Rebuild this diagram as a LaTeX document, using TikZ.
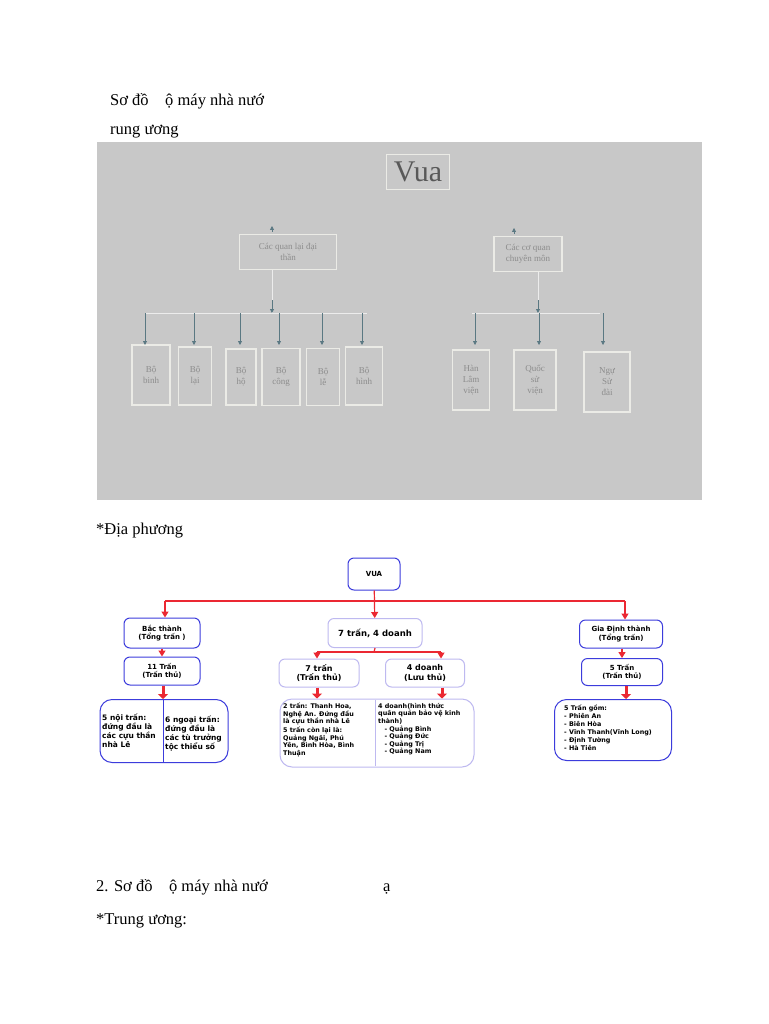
\documentclass[tikz,border=0pt]{standalone}
\usepackage{fontspec}
\setmainfont{Liberation Serif}
\newfontfamily\djv{DejaVu Sans}
\usetikzlibrary{arrows.meta}
\definecolor{bgg}{RGB}{200,200,200}
\definecolor{bl}{RGB}{60,60,220}
\definecolor{lav}{RGB}{190,185,240}
\definecolor{rl}{RGB}{235,40,50}
\definecolor{tg}{RGB}{235,235,230}
\tikzset{
 oldbox/.style={draw=tg,line width=1.2pt,align=center,text=gray!90!white,font=\fontsize{9}{11}\selectfont},
 oldln/.style={draw=gray!15!white,line width=0.8pt},
 oldarr/.style={oldln,-{Triangle[length=4pt,width=4pt]},draw={rgb,255:red,90;green,120;blue,130}},
 nb/.style={draw=bl,line width=1pt,rounded corners=6pt,align=center,font=\djv\bfseries\fontsize{7}{8.5}\selectfont},
 lb/.style={nb,draw=lav},
 rarr/.style={color=rl,line width=1.2pt,-{Triangle[length=6pt,width=7pt]}},
 rln/.style={color=rl,line width=1.2pt},
 ttl/.style={anchor=base west,font=\fontsize{16.5}{18}\selectfont,inner sep=0pt}
}
\begin{document}
\begin{tikzpicture}[x=1pt,y=-1pt]
\useasboundingbox[fill=white] (0,0) rectangle (768,1024);
\node[ttl] (t1) at (110,106) {Sơ đồ\quad ộ máy nhà nướ};
\node[ttl] (t2) at (110,135) {rung ương};
\node[ttl] (t3) at (96,534) {*Địa phương};
\node[ttl] (t4) at (96,891) {2. Sơ đồ\quad ộ máy nhà nướ};
\node[ttl] (t5) at (383,891) {ạ};
\node[ttl] (t6) at (96,924) {*Trung ương:};
% top diagram
\fill[bgg] (97,142) rectangle (702,500);
\node[oldbox,minimum width=63,minimum height=35,font=\fontsize{30}{30}\selectfont,text=gray!70!black] (vua) at (418,172) {Vua};
\node[oldbox,minimum width=97,minimum height=35] (g1) at (288,252) {Các quan lại đại\\thần};
\node[oldbox,minimum width=68,minimum height=35] (g2) at (528,254) {Các cơ quan\\chuyên môn};
\coordinate (u1) at (272,232); \coordinate (u1b) at (272,226);
\coordinate (u2) at (514,234); \coordinate (u2b) at (514,228);
\draw[oldarr] (u1) -- (u1b);
\draw[oldarr] (u2) -- (u2b);
\foreach \n/\x/\y/\w/\h/\t in {b1/151/375/38/60/Bộ\\binh, b2/195/376/33/58/Bộ\\lại, b3/241/377/30/56/Bộ\\hộ, b4/281/377/38/57/Bộ\\công, b5/323/377/33/57/Bộ\\lễ, b6/364/376/37/58/Bộ\\hình, c1/471/380/37/60/Hàn\\Lâm\\viện, c2/535/380/42/60/Quốc\\sử\\viện, c3/607/382/46/60/Ngự\\Sử\\đài}
  {\node[oldbox,minimum width=\w,minimum height=\h] (\n) at (\x,\y) {\t};}
\coordinate (h1) at (272,313); \coordinate (h2) at (538,313);
\draw[oldln] (g1.south -| h1) -- (h1);
\draw[oldarr] (272,300) -- (h1);
\draw[oldln] (145,313) -- (367,313);
\draw[oldln] (g2.south -| h2) -- (h2);
\draw[oldarr] (538,300) -- (h2);
\draw[oldln] (472,313) -- (600,313);
\foreach \n/\x in {b1/145,b2/194,b3/240,b4/279,b5/322,b6/362,c1/475,c2/539,c3/603}
  \draw[oldarr] (\x,313) -- (\x,345);
% bottom diagram
\node[nb,minimum width=52,minimum height=32] (V) at (374,574) {VUA};
\node[nb,minimum width=76,minimum height=30] (bt) at (162,633) {Bắc thành\\(Tổng trấn )};
\node[lb,minimum width=94,minimum height=29,font=\djv\bfseries\fontsize{8.5}{10}\selectfont] (md) at (375,633) {7 trấn, 4 doanh};
\node[nb,minimum width=83,minimum height=28] (gd) at (621,634) {Gia Định thành\\(Tổng trấn)};
\node[nb,minimum width=76,minimum height=28] (t11) at (162,671) {11 Trấn\\(Trấn thủ)};
\node[nb,minimum width=81,minimum height=27] (t5b) at (622,672) {5 Trấn\\(Trấn thủ)};
\node[lb,minimum width=80,minimum height=28,font=\djv\bfseries\fontsize{8}{9.5}\selectfont] (t7) at (319,673) {7 trấn\\(Trấn thủ)};
\node[lb,minimum width=79,minimum height=28,font=\djv\bfseries\fontsize{8}{9.5}\selectfont] (d4) at (425,673) {4 doanh\\(Lưu thủ)};
\node[nb,minimum width=128,minimum height=63,rounded corners=12pt] (L) at (164,731) {};
\draw[bl,line width=1pt] (163,700) -- (163,763);
\node[anchor=west,align=left,inner sep=1pt,font=\djv\bfseries\fontsize{7.5}{9}\selectfont] (L1) at (101,731) {5 nội trấn:\\đứng đầu là\\các cựu thần\\nhà Lê};
\node[anchor=west,align=left,inner sep=1pt,font=\djv\bfseries\fontsize{7.5}{9}\selectfont] (L2) at (164,734) {6 ngoại trấn:\\đứng đầu là\\các tù trưởng\\tộc thiểu số};
\node[lb,minimum width=194,minimum height=68,rounded corners=12pt] (M) at (377,733) {};
\draw[lav,line width=1pt] (375,700) -- (375,766);
\node[anchor=north west,align=left,inner sep=1pt,font=\djv\bfseries\fontsize{6.4}{7.4}\selectfont] (M1) at (282,702) {2 trấn: Thanh Hoa,\\Nghệ An. Đứng đầu\\là cựu thần nhà Lê\\[2pt]5 trấn còn lại là:\\Quảng Ngãi, Phú\\Yên, Bình Hòa, Bình\\Thuận};
\node[anchor=north west,align=left,inner sep=1pt,font=\djv\bfseries\fontsize{6.4}{7.4}\selectfont] (M2) at (377,702) {4 doanh(hình thức\\quân quản bảo vệ kinh\\thành)\\[1pt]\quad - Quảng Bình\\\quad - Quảng Đức\\\quad - Quảng Trị\\\quad - Quảng Nam};
\node[nb,minimum width=117,minimum height=61,rounded corners=12pt] (R) at (613,730) {};
\node[anchor=north west,align=left,inner sep=1pt,font=\djv\bfseries\fontsize{6.4}{8}\selectfont] (R1) at (563,704) {5 Trấn gồm:\\- Phiên An\\- Biên Hòa\\- Vĩnh Thanh(Vĩnh Long)\\- Định Tường\\- Hà Tiên};
\draw[rln] (165,601) -- (625,601);
\draw[rarr] (V) -- (md);
\draw[rarr] (165,601) -- (bt.north -| 165,0);
\draw[rarr] (625,601) -- (gd.north -| 625,0);
\draw[rarr] (bt) -- (t11);
\draw[rarr] (gd.south -| 622,0) -- (t5b);
\draw[rln] (md.south) -- (374,652);
\draw[rln] (317,652) -- (441,652);
\draw[rarr] (317,652) -- (t7.north -| 317,0);
\draw[rarr] (441,652) -- (d4.north -| 441,0);
\foreach \a/\b/\x in {t11/L/163,t7/M/317,d4/M/442,t5b/R/626}
  \draw[rarr,line width=3pt,-{Triangle[length=5pt,width=10pt]}] (\a.south -| \x,0) -- (\b.north -| \x,0);
\end{tikzpicture}
\end{document}
